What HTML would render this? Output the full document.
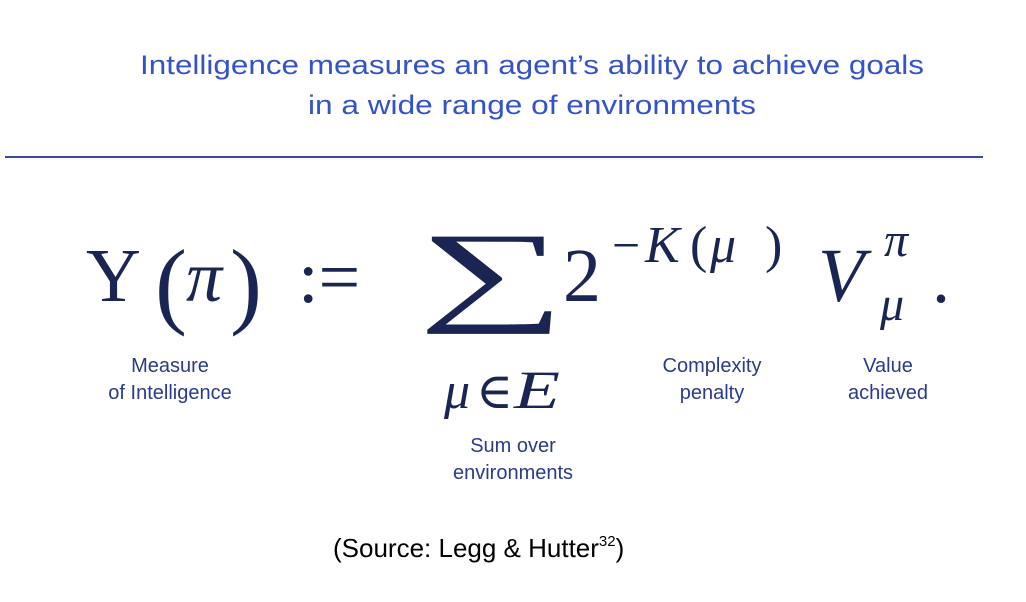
<!DOCTYPE html>
<html><head><meta charset="utf-8"><style>
html,body{margin:0;padding:0;background:#fff;width:1026px;height:602px;overflow:hidden}
svg{display:block}
</style></head><body>
<svg width="1026" height="602" viewBox="0 0 1026 602" xmlns="http://www.w3.org/2000/svg">
<g font-family="Liberation Sans, sans-serif" fill="#3452c9" font-size="27">
<text x="532" y="74" text-anchor="middle" textLength="784" lengthAdjust="spacingAndGlyphs">Intelligence measures an agent’s ability to achieve goals</text>
<text x="532" y="114" text-anchor="middle" textLength="448" lengthAdjust="spacingAndGlyphs">in a wide range of environments</text>
</g>
<rect x="5" y="156" width="978" height="2" fill="#3a4a9a"/>
<g font-family="Liberation Serif, DejaVu Serif, serif" fill="#1b2553">
<text x="86" y="301" font-size="76">Υ</text>
<text x="155" y="316" font-size="96">(</text>
<text x="186" y="301" font-size="72" font-style="italic">π</text>
<text x="230" y="316" font-size="96">)</text>
<text x="298" y="302" font-size="74">:=</text>
<text transform="translate(418,310) scale(1.85,1)" font-size="112">∑</text>
<text x="563" y="301" font-size="76">2</text>
<text x="612" y="262" font-size="50">−</text>
<text x="645" y="262" font-size="52" font-style="italic">K</text>
<text x="690" y="262" font-size="52">(</text>
<text x="710" y="262" font-size="52" font-style="italic">μ</text>
<text x="765" y="262" font-size="52">)</text>
<text x="818" y="301" font-size="76" font-style="italic">V</text>
<text x="884" y="256" font-size="48" font-style="italic">π</text>
<text x="880" y="320" font-size="48" font-style="italic">μ</text>
<text x="932" y="302" font-size="72">.</text>
<text x="444" y="408" font-size="52" font-style="italic">μ</text>
<text x="476" y="408" font-size="50">∈</text>
<text x="514" y="408" font-size="54" font-style="italic" textLength="46" lengthAdjust="spacingAndGlyphs">E</text>
</g>
<g font-family="Liberation Sans, sans-serif" fill="#2b3a8c" font-size="20" text-anchor="middle">
<text x="170" y="372">Measure</text>
<text x="170" y="399">of Intelligence</text>
<text x="712" y="372">Complexity</text>
<text x="712" y="399">penalty</text>
<text x="888" y="372">Value</text>
<text x="888" y="399">achieved</text>
<text x="513" y="452">Sum over</text>
<text x="513" y="479">environments</text>
</g>
<text x="333" y="557" font-family="Liberation Sans, sans-serif" font-size="26" fill="#000">(Source: Legg &amp; Hutter<tspan font-size="15" dy="-11">32</tspan><tspan dy="11">)</tspan></text>
</svg>
</body></html>
